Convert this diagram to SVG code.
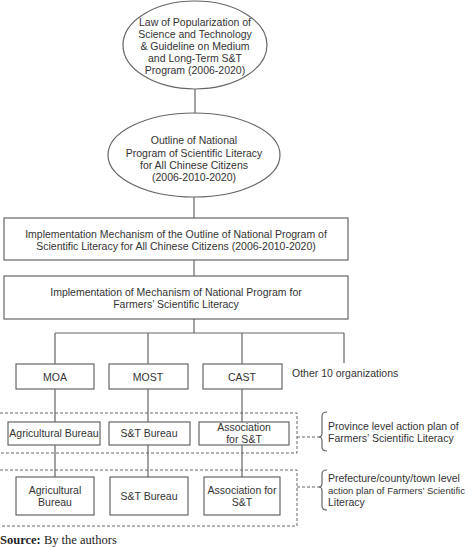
<svg xmlns="http://www.w3.org/2000/svg" width="474" height="547" viewBox="0 0 474 547">
<style>
.n{fill:#fff;stroke:#666;stroke-width:1.2}
.t{font-family:"Liberation Sans",Arial,sans-serif;font-size:10.5px;fill:#333;text-anchor:middle}
.l{font-family:"Liberation Sans",Arial,sans-serif;font-size:10.5px;fill:#333}
.c{fill:none;stroke:#666;stroke-width:1.2}
.d{fill:none;stroke:#666;stroke-width:1;stroke-dasharray:3,2}
</style>
<rect width="474" height="547" fill="#fff"/>
<g id="connectors">
<path class="c" d="M195 89V113M194 197V218M194 260V276M194 319V333M55 333H344M55 333V364M148 333V364M242 333V364M344 333V363M55 389V422M148 389V422M242 389V422M55 445V477M148 445V477M242 445V477"/>
</g>
<g id="dash1"><path class="d" d="M0 413H297V453H0"/></g>
<g id="dash2"><path class="d" d="M0 470H297V526H0"/></g>
<g id="n1"><ellipse class="n" cx="195" cy="45" rx="72" ry="44"/>
<text class="t" x="195" y="26">Law of Popularization of</text>
<text class="t" x="195" y="38">Science and Technology</text>
<text class="t" x="195" y="50">&amp; Guideline on Medium</text>
<text class="t" x="195" y="62">and Long-Term S&amp;T</text>
<text class="t" x="195" y="74">Program (2006-2020)</text></g>
<g id="n2"><ellipse class="n" cx="194" cy="155" rx="86" ry="42"/>
<text class="t" x="194" y="144">Outline of National</text>
<text class="t" x="194" y="157">Program of Scientific Literacy</text>
<text class="t" x="194" y="169">for All Chinese Citizens</text>
<text class="t" x="194" y="181">(2006-2010-2020)</text></g>
<g id="n3"><rect class="n" x="4" y="218" width="344" height="42"/>
<text class="t" x="176" y="238">Implementation Mechanism of the Outline of National Program of</text>
<text class="t" x="176" y="250">Scientific Literacy for All Chinese Citizens (2006-2010-2020)</text></g>
<g id="n4"><rect class="n" x="4" y="276" width="344" height="43"/>
<text class="t" x="176" y="296">Implementation of Mechanism of National Program for</text>
<text class="t" x="176" y="308">Farmers’ Scientific Literacy</text></g>
<g id="moa"><rect class="n" x="16" y="364" width="78" height="25"/><text class="t" x="55" y="381">MOA</text></g>
<g id="most"><rect class="n" x="109" y="364" width="79" height="25"/><text class="t" x="148" y="381">MOST</text></g>
<g id="cast"><rect class="n" x="203" y="364" width="79" height="25"/><text class="t" x="242" y="381">CAST</text></g>
<g id="other"><text class="l" x="292" y="377">Other 10 organizations</text></g>
<g id="p1"><rect class="n" x="8" y="422" width="92" height="23"/><text class="t" x="54" y="437">Agricultural Bureau</text></g>
<g id="p2"><rect class="n" x="109" y="422" width="81" height="23"/><text class="t" x="149" y="437">S&amp;T Bureau</text></g>
<g id="p3"><rect class="n" x="199" y="422" width="90" height="23"/><text class="t" x="244" y="431">Association</text><text class="t" x="244" y="443">for S&amp;T</text></g>
<g id="c1"><rect class="n" x="16" y="477" width="78" height="38"/><text class="t" x="55" y="494">Agricultural</text><text class="t" x="55" y="506">Bureau</text></g>
<g id="c2"><rect class="n" x="110" y="477" width="78" height="38"/><text class="t" x="149" y="500">S&amp;T Bureau</text></g>
<g id="c3"><rect class="n" x="204" y="477" width="76" height="38"/><text class="t" x="242" y="494">Association for</text><text class="t" x="242" y="506">S&amp;T</text></g>
<g id="b1"><path class="d" d="M297 437H320"/><path class="c" stroke-width="1" d="M327 412Q322 412 322 416V433Q322 437 319 437Q322 437 322 441V447Q322 451 327 451"/>
<text class="l" x="328" y="430">Province level action plan of</text>
<text class="l" x="328" y="442">Farmers’ Scientific Literacy</text></g>
<g id="b2"><path class="d" d="M297 487H320"/><path class="c" stroke-width="1" d="M327 470Q322 470 322 474V483Q322 487 319 487Q322 487 322 491V506Q322 510 327 510"/>
<text class="l" x="328" y="482">Prefecture/county/town level</text>
<text class="l" x="328" y="494" style="font-size:9.5px">action plan of Farmers’ Scientific</text>
<text class="l" x="328" y="506">Literacy</text></g>
<text x="0" y="544" style="font-family:'Liberation Serif','Times New Roman',serif;font-size:12.5px;fill:#222"><tspan font-weight="bold">Source:</tspan> By the authors</text>
</svg>
